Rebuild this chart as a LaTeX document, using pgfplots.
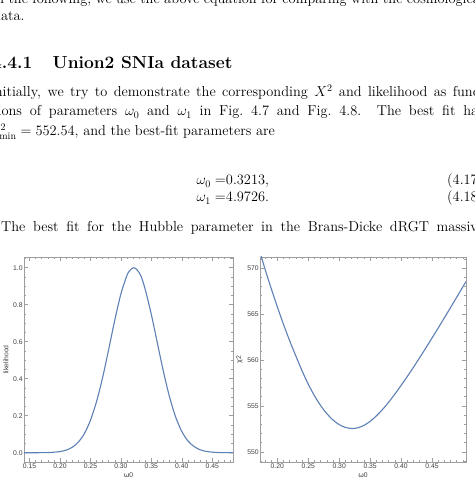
\documentclass[border=0pt]{standalone}
\usepackage{fontspec}
\usepackage{pgfplots}
\pgfplotsset{compat=1.18}
\newfontfamily\plotfont{Liberation Sans}
\newfontfamily\symfont{DejaVu Sans}
\definecolor{mblue}{rgb}{0.368417,0.506779,0.709798}
\definecolor{fgray}{gray}{0.62}
\definecolor{lgray}{gray}{0.25}
\newcommand\body{\fontsize{14.4}{17.4}\selectfont}
\newcommand\head{\fontsize{17.4}{20}\selectfont\bfseries}
\newcommand\tl{\plotfont\fontsize{6.8}{7}\selectfont}
\newcommand\jline[3]{\node[anchor=base west,inner sep=0] at (#1pt,481pt-#2pt) {\body\makebox[\dimexpr 483.6pt-(#1pt)\relax][s]{#3}};}
\newcommand\nline[3]{\node[anchor=base west,inner sep=0] at (#1pt,481pt-#2pt) {\body #3};}
\pgfplotsset{mstyle/.style={
  scale only axis, width=209pt, height=205pt,
  axis line style={fgray, line width=0.6pt},
  every tick/.style={fgray, line width=0.5pt},
  major tick length=4pt, minor tick length=2.2pt,
  tick align=inside,
  xtick pos=both, ytick pos=both,
  xticklabel pos=bottom, yticklabel pos=left,
  tick label style={font=\tl, text=lgray, inner sep=1.2pt},
  label style={font=\tl, text=lgray},
}}
\begin{document}
\begin{tikzpicture}
\fill[white] (0pt,0pt) rectangle (474pt,481pt);
\begin{scope}
\clip (0pt,0pt) rectangle (474pt,481pt);
\jline{-9}{4}{In the following, we use the above equation for comparing with the cosmological}
\nline{-7}{21}{data.}
\node[anchor=base west,inner sep=0] at (-8pt,412pt) {\head 4.4.1};
\node[anchor=base west,inner sep=0] at (52.5pt,412pt) {\head Union2 SNIa dataset};
\jline{-10.5}{97}{Initially, we try to demonstrate the corresponding $X^2$ and likelihood as func-}
\jline{-8}{116}{tions of parameters $\omega_0$ and $\omega_1$ in Fig.~4.7 and Fig.~4.8.\ \ The best fit has}
\nline{-12.5}{136}{$X^2_{\rm min}=552.54$, and the best-fit parameters are}
\nline{196.5}{185}{$\omega_0 =$0.3213,}
\nline{196.5}{202}{$\omega_1 =$4.9726.}
\nline{447}{185}{(4.17)}
\nline{447}{202}{(4.18)}
\jline{1}{232}{The best fit for the Hubble parameter in the Brans-Dicke dRGT massive}
\end{scope}

\begin{scope}[shift={(24pt,19pt)}]
\begin{axis}[mstyle, at={(0pt,0pt)}, anchor=south west,
  xmin=0.141, xmax=0.484, ymin=-0.05, ymax=1.058,
  xtick={0.15,0.20,0.25,0.30,0.35,0.40,0.45},
  xticklabels={0.15,0.20,0.25,0.30,0.35,0.40,0.45},
  minor xtick={0.16,0.17,0.18,0.19,0.21,0.22,0.23,0.24,0.26,0.27,0.28,0.29,0.31,0.32,0.33,0.34,0.36,0.37,0.38,0.39,0.41,0.42,0.43,0.44,0.46,0.47,0.48},
  ytick={0,0.2,0.4,0.6,0.8,1.0},
  yticklabels={0.0,0.2,0.4,0.6,0.8,1.0},
  minor ytick={0.05,0.1,0.15,0.25,0.3,0.35,0.45,0.5,0.55,0.65,0.7,0.75,0.85,0.9,0.95,1.05},
  xlabel={{\symfont ω}0}, ylabel={likelihood},
]
\addplot[mblue, line width=1.1pt, smooth] coordinates {
(0.141,0) (0.16,0.0001) (0.18,0.001) (0.19,0.003) (0.20,0.0063) (0.21,0.014)
(0.22,0.029) (0.23,0.057) (0.24,0.103) (0.25,0.175) (0.26,0.276) (0.27,0.406)
(0.28,0.559) (0.29,0.717) (0.30,0.858) (0.31,0.959) (0.3155,0.988) (0.321,1.0)
(0.3265,0.989) (0.333,0.955) (0.34,0.882) (0.35,0.747) (0.36,0.591) (0.37,0.436)
(0.38,0.300) (0.39,0.192) (0.40,0.115) (0.41,0.064) (0.42,0.034) (0.43,0.016)
(0.44,0.0074) (0.45,0.0032) (0.46,0.0012) (0.47,0.0005) (0.484,0.0001)
};
\end{axis}
\end{scope}

\begin{scope}[shift={(260pt,19pt)}]
\begin{axis}[mstyle, at={(0pt,0pt)}, anchor=south west, width=206pt,
  xmin=0.172, xmax=0.505, ymin=548.9, ymax=571.2,
  xtick={0.20,0.25,0.30,0.35,0.40,0.45},
  xticklabels={0.20,0.25,0.30,0.35,0.40,0.45},
  minor xtick={0.18,0.19,0.21,0.22,0.23,0.24,0.26,0.27,0.28,0.29,0.31,0.32,0.33,0.34,0.36,0.37,0.38,0.39,0.41,0.42,0.43,0.44,0.46,0.47,0.48,0.49,0.50},
  ytick={550,555,560,565,570},
  yticklabels={550,555,560,565,570},
  minor ytick={549,551,552,553,554,556,557,558,559,561,562,563,564,566,567,568,569,571},
  xlabel={{\symfont ω}0}, ylabel={{\symfont χ}2},
]
\addplot[mblue, line width=1.1pt, smooth] coordinates {
(0.172,571.75) (0.18,569.91) (0.19,567.80) (0.20,565.78) (0.21,563.87) (0.22,562.08)
(0.23,560.42) (0.24,558.82) (0.25,557.37) (0.26,556.11) (0.27,555.04) (0.28,554.16)
(0.29,553.47) (0.30,552.97) (0.31,552.66) (0.3213,552.54) (0.33,552.62) (0.34,552.88)
(0.35,553.32) (0.36,553.91) (0.37,554.61) (0.38,555.41) (0.39,556.29) (0.40,557.22)
(0.41,558.19) (0.42,559.20) (0.43,560.24) (0.44,561.30) (0.45,562.38) (0.46,563.47)
(0.47,564.58) (0.48,565.70) (0.49,566.83) (0.505,568.53)
};
\end{axis}
\end{scope}
\pgfresetboundingbox
\useasboundingbox (0pt,0pt) rectangle (474pt,481pt);
\end{tikzpicture}
\end{document}
